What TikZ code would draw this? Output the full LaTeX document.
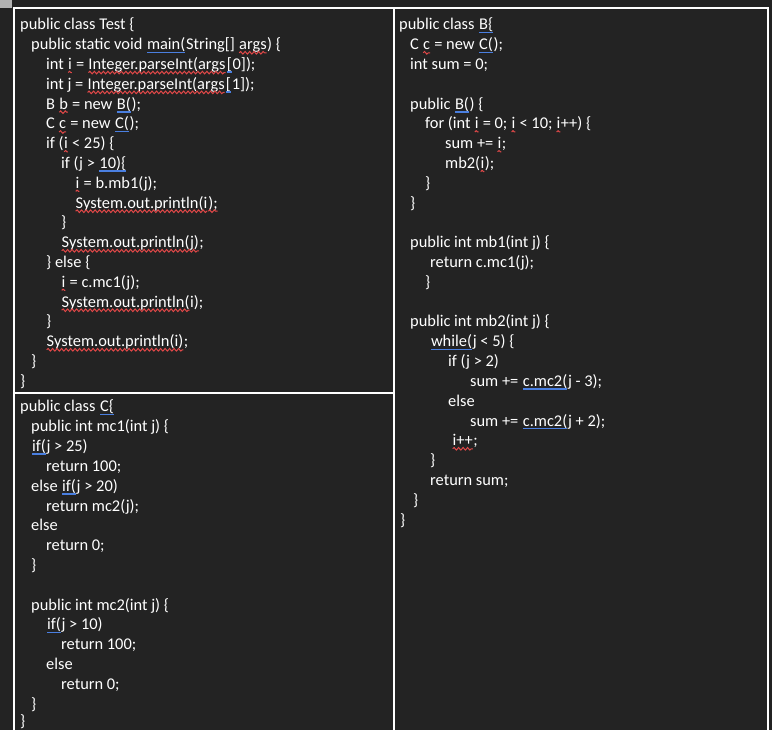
\documentclass[tikz,border=0pt]{standalone}
\usepackage{fontspec}
\setmainfont{Carlito}
\usetikzlibrary{decorations.pathmorphing}
\definecolor{bg}{HTML}{232323}
\definecolor{sq}{HTML}{E04848}
\definecolor{bl}{HTML}{4A7FE0}
\newcommand{\rs}[1]{\tikz[baseline=(X.base)]{\node[inner sep=0pt,outer sep=0pt,anchor=base](X){#1};\draw[sq,line width=1pt,decorate,decoration={snake,amplitude=1.3pt,segment length=4.5pt}]([yshift=-3pt]X.base west)--([yshift=-3pt]X.base east);}}
\newcommand{\bu}[1]{\tikz[baseline=(X.base)]{\node[inner sep=0pt,outer sep=0pt,anchor=base](X){#1};\draw[bl,line width=1.6pt]([yshift=-2.6pt]X.base west)--([yshift=-2.6pt]X.base east);}}
\begin{document}
\begin{tikzpicture}[x=1pt,y=-1pt,
  cl/.style={anchor=base west,inner sep=0pt,text=white,font=\fontsize{16.4}{19}\selectfont}]
\useasboundingbox (0,0) rectangle (772,730);
\fill[bg] (0,0) rectangle (772,730);
\fill[gray!60] (0,0) rectangle (12,8);
\draw[white,line width=1.5pt] (14,8) rectangle (768,731);
\draw[white,line width=1.5pt] (394,8) -- (394,731);
\draw[white,line width=1.5pt] (14,393) -- (394,393);
% left top
\node[cl] (a1) at (20,30) {public class Test \{};
\node[cl] (a2) at (31,49.8) {public static void \bu{main(}String[] \rs{args}) \{};
\node[cl] (a3) at (46,69.6) {int \rs{i} = \rs{Integer.parseInt(args}\bu{[}0]);};
\node[cl] (a4) at (46,89.4) {int j = \rs{Integer.parseInt(args}\bu{[}1]);};
\node[cl] (a5) at (46,109.2) {B \rs{b} = new \bu{B(});};
\node[cl] (a6) at (46,129) {C \rs{c} = new \bu{C(});};
\node[cl] (a7) at (46,148.8) {if (\rs{i} < 25) \{};
\node[cl] (a8) at (61,168.6) {if (j > \bu{10)\{}};
\node[cl] (a9) at (75,188.4) {\rs{i} = b.mb1(j);};
\node[cl] (a10) at (75,208.2) {\rs{System.out.println(i}\rs{);}};
\node[cl] (a11) at (61,228) {\}};
\node[cl] (a12) at (61,247.8) {\rs{System.out.println(j)};};
\node[cl] (a13) at (46,267.6) {\} else \{};
\node[cl] (a14) at (61,287.4) {\rs{i} = c.mc1(j);};
\node[cl] (a15) at (61,307.2) {\rs{System.out.println(}i);};
\node[cl] (a16) at (46,327) {\}};
\node[cl] (a17) at (46,346.8) {\rs{System.out.println(i)};};
\node[cl] (a18) at (31,366.6) {\}};
\node[cl] (a19) at (20,386.4) {\}};
% left bottom
\node[cl] (c1) at (20,412) {public class \bu{C\{}};
\node[cl] (c2) at (31,431.8) {public int mc1(int j) \{};
\node[cl] (c3) at (31,451.6) {\bu{if(}j > 25)};
\node[cl] (c4) at (46,471.4) {return 100;};
\node[cl] (c5) at (31,491.2) {else \bu{if(}j > 20)};
\node[cl] (c6) at (46,511) {return mc2(j);};
\node[cl] (c7) at (31,530.8) {else};
\node[cl] (c8) at (46,550.6) {return 0;};
\node[cl] (c9) at (31,570.4) {\}};
\node[cl] (c10) at (31,610) {public int mc2(int j) \{};
\node[cl] (c11) at (46,629.8) {\bu{if(}j > 10)};
\node[cl] (c12) at (61,649.6) {return 100;};
\node[cl] (c13) at (46,669.4) {else};
\node[cl] (c14) at (61,689.2) {return 0;};
\node[cl] (c15) at (31,709) {\}};
\node[cl] (c16) at (20,726) {\}};
% right
\node[cl] (b1) at (399,30) {public class \bu{B\{}};
\node[cl] (b2) at (410,49.8) {C \rs{c} = new \bu{C(});};
\node[cl] (b3) at (410,69.6) {int sum = 0;};
\node[cl] (b4) at (410,109.2) {public \bu{B(}) \{};
\node[cl] (b5) at (425,129) {for (int \rs{i} = 0; \rs{i} < 10; \rs{i}++) \{};
\node[cl] (b6) at (445,148.8) {sum += \rs{i};};
\node[cl] (b7) at (445,168.6) {mb2(\rs{i});};
\node[cl] (b8) at (425,188.4) {\}};
\node[cl] (b9) at (410,208.2) {\}};
\node[cl] (b10) at (410,247.8) {public int mb1(int j) \{};
\node[cl] (b11) at (430,267.6) {return c.mc1(j);};
\node[cl] (b12) at (425,287.4) {\}};
\node[cl] (b13) at (410,327) {public int mb2(int j) \{};
\node[cl] (b14) at (430,346.8) {\bu{while(}j < 5) \{};
\node[cl] (b15) at (448,366.6) {if (j > 2)};
\node[cl] (b16) at (470,386.4) {sum += \bu{c.mc2(}j - 3);};
\node[cl] (b17) at (448,406.2) {else};
\node[cl] (b18) at (470,426) {sum += \bu{c.mc2(}j + 2);};
\node[cl] (b19) at (452,445.8) {\rs{i++};};
\node[cl] (b20) at (430,465.6) {\}};
\node[cl] (b21) at (430,485.4) {return sum;};
\node[cl] (b22) at (413,505.2) {\}};
\node[cl] (b23) at (400,525) {\}};
\end{tikzpicture}
\end{document}
